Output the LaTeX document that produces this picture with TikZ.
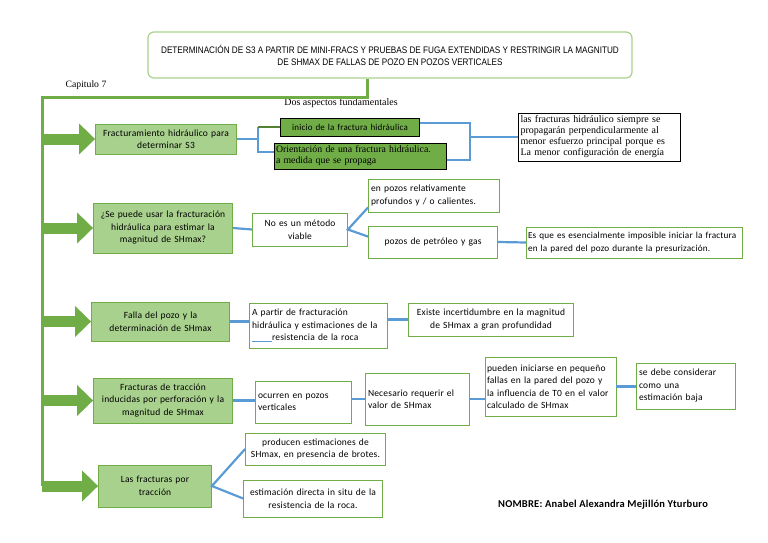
\documentclass[tikz,border=0pt]{standalone}
\usepackage{fontspec}
\setmainfont[LetterSpace=2]{Carlito}
\newfontfamily\notefont{Liberation Serif}
\newfontfamily\titlefont[FakeStretch=0.86]{Liberation Sans}
\usetikzlibrary{arrows.meta}
\definecolor{boxgreen}{HTML}{70AD47}
\definecolor{lightgreen}{HTML}{A9D18E}
\definecolor{darkgreen}{HTML}{548235}
\definecolor{linkblue}{HTML}{5B9BD5}

\begin{document}
\begin{tikzpicture}[x=1pt,y=-1pt,
  mainbox/.style={rectangle,draw=boxgreen,fill=lightgreen,line width=0.8pt,inner sep=3pt,align=center,font=\fontsize{9.5}{12.5}\selectfont},
  sidebox/.style={rectangle,draw=boxgreen,fill=white,line width=0.8pt,inner sep=2.5pt,font=\fontsize{9.5}{12.5}\selectfont},
  greenbox/.style={rectangle,draw=black,fill=boxgreen,line width=0.6pt,inner sep=1.5pt},
  notebox/.style={rectangle,draw=black,line width=0.6pt,inner sep=2pt,align=left,font=\notefont\fontsize{10}{11}\selectfont},
  link/.style={draw=linkblue,line width=2.2pt},
  trunk/.style={draw=boxgreen,line width=3pt},
  fatarrow/.style={draw=boxgreen,line width=11pt,-{Triangle[width=30pt,length=16pt]}}]
\useasboundingbox (0,0) rectangle (768,543);

\path (390,55) node(title)[rectangle,rounded corners=6pt,draw=lightgreen,line width=1.2pt,minimum width=484,minimum height=46,align=center,font=\titlefont\fontsize{9.5}{12}\selectfont]{DETERMINACIÓN DE S3 A PARTIR DE MINI-FRACS Y PRUEBAS DE FUGA EXTENDIDAS Y RESTRINGIR LA MAGNITUD\\DE SHMAX DE FALLAS DE POZO EN POZOS VERTICALES}
(86,85) node(cap)[font=\notefont\fontsize{9.7}{10}\selectfont]{Capitulo 7}
(341,103) node(dos)[font=\notefont\fontsize{10}{10}\selectfont]{Dos aspectos fundamentales}
(603,505) node(nombre)[font=\bfseries\fontsize{10.5}{12}\selectfont]{NOMBRE: Anabel Alexandra Mejillón Yturburo};

% columna izquierda
\path (166,139) node(b1)[mainbox,text width=135,minimum height=30]{Fracturamiento hidráulico para\\determinar S3}
(163,228) node(b2)[mainbox,text width=133,minimum height=50]{¿Se puede usar la fracturación\\hidráulica para estimar la\\magnitud de SHmax?}
(160.5,321.5) node(b3)[mainbox,text width=132,minimum height=39]{Falla del pozo y la\\determinación de SHmax}
(163,400.5) node(b4)[mainbox,text width=133,minimum height=45]{Fracturas de tracción\\inducidas por perforación y la\\magnitud de SHmax}
(155,486) node(b5)[mainbox,text width=107,minimum height=42]{Las fracturas por\\tracción};

% fila 1
\path (350,127) node(inicio)[greenbox,text width=136,minimum height=18,align=center,font=\fontsize{9}{10}\selectfont]{inicio de la fractura hidráulica}
(360.5,156) node(orient)[greenbox,text width=169,minimum height=26,align=left,font=\notefont\fontsize{9.8}{11}\selectfont]{Orientación de una fractura hidráulica.\\a medida que se propaga}
(599.5,137) node(note1)[notebox,text width=158,minimum height=48]{las fracturas hidráulico siempre se\\propagarán perpendicularmente al\\menor esfuerzo principal porque es\\La menor configuración de energía};

% fila 2
\path (300,229.5) node(novia)[sidebox,text width=90,minimum height=33,align=center]{No es un método\\viable}
(434,195.5) node(prof)[sidebox,text width=126,minimum height=33,align=left]{en pozos relativamente\\profundos y / o calientes.}
(433,242) node(petro)[sidebox,text width=124,minimum height=32,align=center]{pozos de petróleo y gas}
(634.5,242.5) node(imposs)[sidebox,text width=213,inner sep=1.5pt,minimum height=31,align=left,font=\fontsize{9.2}{12.5}\selectfont]{Es que es esencialmente imposible iniciar la fractura\\en la pared del pozo durante la presurización.};

% fila 3
\path (318.5,325.5) node(partir)[sidebox,text width=133,minimum height=45,align=left]{A partir de fracturación\\hidráulica y estimaciones de la\\\textcolor{linkblue}{\rule[-1pt]{20pt}{0.6pt}}resistencia de la roca}
(491,319.5) node(existe)[sidebox,text width=160,minimum height=33,align=center]{Existe incertidumbre en la magnitud\\de SHmax a gran profundidad};

% fila 4
\path (303.5,402) node(ocurren)[sidebox,text width=91,minimum height=42,align=left]{ocurren en pozos\\verticales}
(417.5,399) node(necesario)[sidebox,text width=99,minimum height=52,align=left]{Necesario requerir el\\valor de SHmax}
(550.5,386.5) node(pueden)[sidebox,text width=127,inner sep=2pt,minimum height=59,align=left]{pueden iniciarse en pequeño\\fallas en la pared del pozo y\\la influencia de T0 en el valor\\calculado de SHmax}
(686,386) node(consid)[sidebox,text width=94,minimum height=46,align=left]{se debe considerar\\como una\\estimación baja};

% fila 5
\path (315.5,449) node(produce)[sidebox,text width=135,minimum height=32,align=center]{producen estimaciones de\\SHmax, en presencia de brotes.}
(313,498.5) node(directa)[sidebox,text width=134,minimum height=37,align=center]{estimación directa in situ de la\\resistencia de la roca.};

% tronco y flechas
\coordinate (top) at (367,97);
\coordinate (corner) at (42,97);
\coordinate (bottom) at (42,486);
\draw[trunk] (title.south -| top) -- (top) -- (corner) -- (bottom);
\foreach \b in {b1,b2,b3,b4,b5}
  \draw[fatarrow] (\b -| corner) -- (\b.west);

% conectores
\coordinate (f1) at (258,139);
\coordinate (f2) at (470,137);
\draw[link] (b1.east) -- (f1);
\draw[link] (f1 |- inicio.west) |- ([yshift=4pt]orient.west);
\draw[link,draw=darkgreen] (f1 |- inicio.west) -- (inicio.west);
\draw[link] ([yshift=4pt]inicio.east) -| (f2) |- ([yshift=-4pt]orient.east);
\draw[link] (f2) -- (f2 -| note1.west);

\draw[link] (b2.east) -- (novia.west);
\draw[link] ([yshift=5pt]prof.south west) -- (novia.east) -- ([yshift=-11pt]petro.north west);
\draw[link] (petro.east) -- (imposs.west);

\draw[link] (b3.east) -- (b3.east -| partir.west);
\draw[link] (existe.west -| partir.east) -- (existe.west);

\draw[link] (b4.east) -- (b4.east -| ocurren.west);
\draw[link] (necesario.west -| ocurren.east) -- (necesario.west);
\draw[link] (necesario.east) -- (necesario.east -| pueden.west);
\draw[link] (pueden.east) -- (pueden.east -| consid.west);

\draw[link] (produce.west) -- (b5.east) -- (directa.west);

\end{tikzpicture}
\end{document}
